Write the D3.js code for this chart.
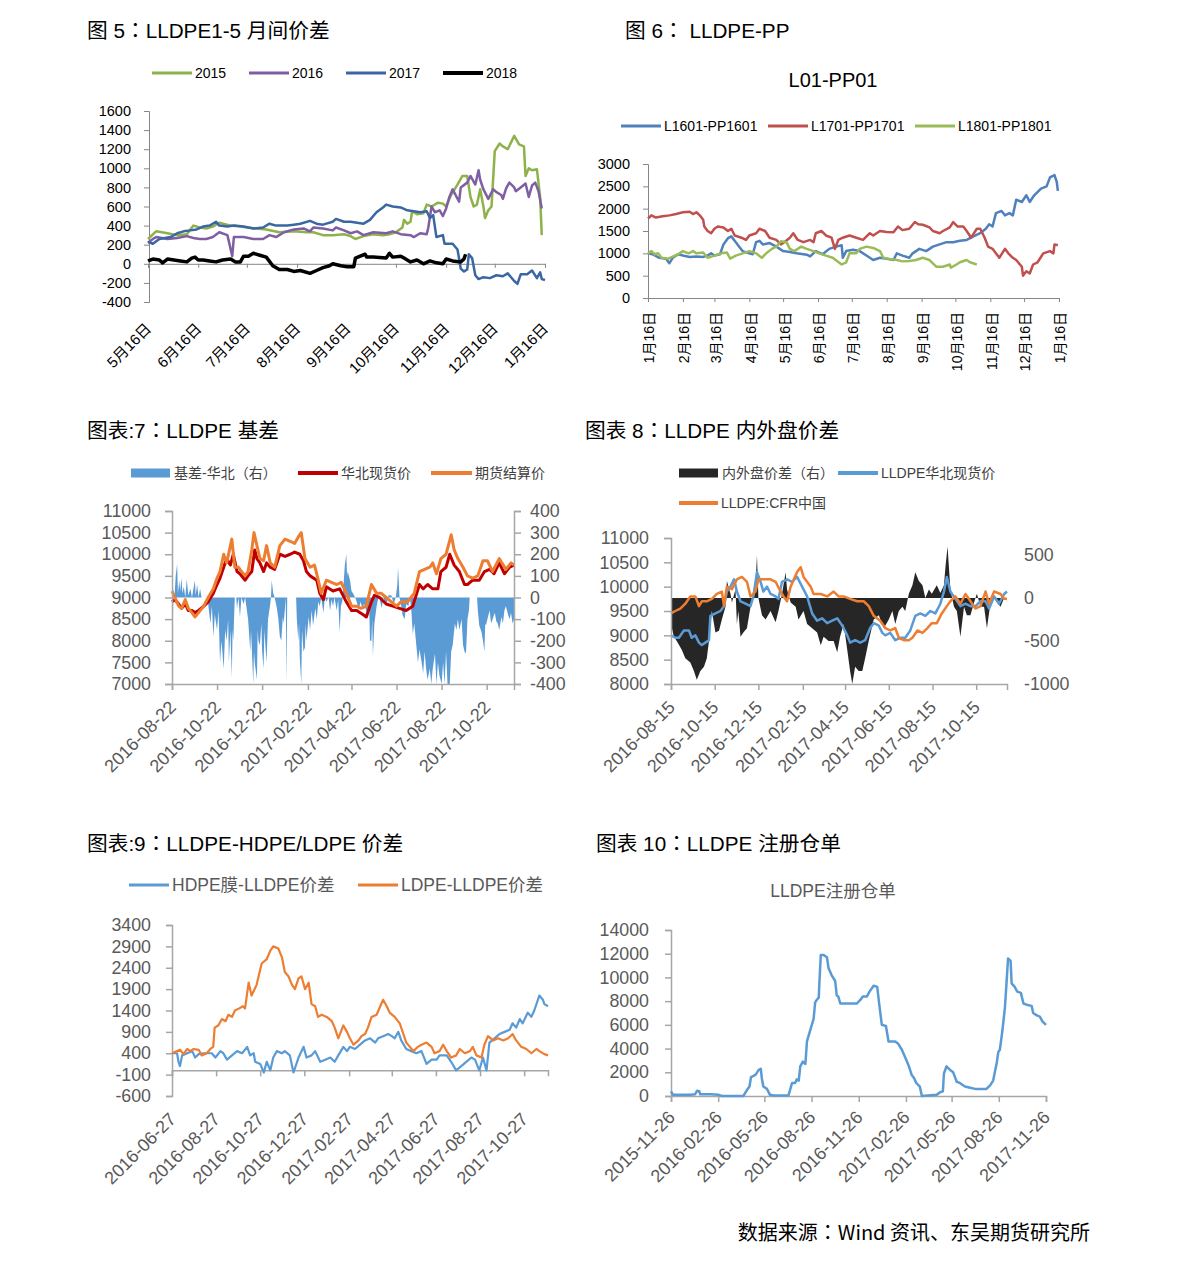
<!DOCTYPE html>
<html><head><meta charset="utf-8">
<script src="https://cdn.jsdelivr.net/npm/d3@7/dist/d3.min.js"></script>
<style>
body{margin:0;background:#fff;}
svg text{font-family:"Liberation Sans","Noto Sans CJK SC",sans-serif;}
</style></head><body>
<svg id="c" width="1191" height="1264"></svg>
<script>
// ================= DATA =================
// Fig 5: days since 5月16日
const p1Ticks = [0,31,61,92,123,153,184,214,245];
const p1TickLabels = ["5月16日","6月16日","7月16日","8月16日","9月16日","10月16日","11月16日","12月16日","1月16日"];
const p1YTicks = [-400,-200,0,200,400,600,800,1000,1200,1400,1600];
const p1_2015 = [[0,260],[5,340],[12,320],[18,300],[24,310],[28,400],[32,380],[36,370],[40,390],[44,430],[51,400],[57,390],[61,380],[67,370],[73,360],[81,330],[90,340],[98,330],[102,330],[108,300],[114,300],[121,310],[125,290],[128,260],[133,290],[139,310],[145,300],[149,310],[153,330],[157,380],[158,460],[160,420],[162,440],[163,550],[166,520],[170,530],[172,620],[175,600],[179,640],[182,630],[184,600],[187,720],[191,830],[194,920],[197,920],[199,700],[201,600],[203,620],[205,780],[207,600],[208,480],[210,560],[212,600],[214,1180],[217,1260],[219,1230],[222,1200],[226,1340],[229,1250],[232,1230],[233,920],[235,1000],[237,980],[240,990],[242,700],[243,300]];
const p1_2016 = [[0,220],[3,260],[5,280],[12,260],[18,270],[24,290],[28,270],[32,260],[36,260],[40,280],[44,330],[49,300],[52,80],[53,280],[59,280],[65,260],[71,260],[75,300],[79,280],[84,330],[90,360],[96,370],[100,340],[102,380],[108,370],[114,350],[116,380],[121,350],[125,320],[129,340],[133,300],[139,330],[147,320],[151,340],[156,310],[162,300],[164,280],[168,320],[172,310],[173,380],[175,600],[177,540],[180,560],[182,500],[184,580],[186,700],[188,780],[192,650],[193,800],[197,850],[199,920],[202,830],[204,980],[205,880],[207,780],[210,680],[213,780],[215,750],[218,720],[219,680],[221,790],[223,850],[226,800],[227,760],[230,800],[233,840],[235,700],[237,820],[239,850],[241,760],[243,580]];
const p1_2017 = [[0,230],[3,210],[7,260],[14,280],[18,320],[22,340],[26,350],[30,360],[34,390],[38,400],[42,440],[44,400],[49,390],[53,400],[59,390],[65,370],[71,380],[75,420],[79,400],[86,400],[90,410],[94,420],[100,450],[104,420],[108,410],[114,440],[116,470],[121,440],[125,440],[129,430],[133,420],[137,460],[141,540],[145,590],[147,620],[151,600],[156,590],[160,560],[164,550],[168,540],[172,550],[174,480],[176,510],[178,280],[182,300],[183,210],[188,210],[191,150],[193,-50],[195,-80],[197,-60],[198,100],[200,60],[202,-120],[204,-160],[207,-140],[211,-150],[215,-120],[219,-130],[222,-100],[226,-180],[228,-210],[230,-110],[234,-110],[237,-70],[240,-150],[242,-90],[243,-160],[245,-170]];
const p1_2018 = [[0,30],[3,50],[7,40],[9,10],[12,50],[16,40],[20,30],[24,20],[27,60],[29,70],[31,40],[34,40],[38,30],[42,20],[46,40],[51,50],[54,20],[57,20],[59,80],[62,80],[65,110],[69,90],[73,70],[77,-20],[81,-60],[86,-60],[90,-80],[94,-70],[100,-100],[104,-70],[108,-40],[112,-20],[114,0],[119,-20],[123,-30],[127,-30],[128,60],[131,80],[134,100],[135,70],[139,70],[147,60],[149,110],[151,70],[156,80],[158,60],[162,20],[166,40],[170,0],[174,30],[178,10],[182,0],[184,50],[188,30],[193,20],[195,50],[196,100]];

// Fig 6: days since 1月16日
const p2Ticks = [0,31,59,90,120,151,181,212,243,273,304,334,365];
const p2TickLabels = ["1月16日","2月16日","3月16日","4月16日","5月16日","6月16日","7月16日","8月16日","9月16日","10月16日","11月16日","12月16日","1月16日"];
const p2YTicks = [0,500,1000,1500,2000,2500,3000];
const p2_L1601 = [[0,1000],[4,980],[10,900],[16,880],[19,780],[22,900],[27,980],[31,950],[37,920],[43,930],[49,920],[53,950],[56,1000],[59,950],[64,980],[67,1200],[71,1340],[74,1380],[78,1250],[81,1150],[84,1050],[90,1000],[93,980],[96,1250],[99,1280],[102,1200],[108,1230],[114,1150],[117,1100],[120,1050],[126,1030],[132,1000],[141,970],[144,930],[149,1050],[155,980],[161,1100],[167,1150],[172,1180],[173,900],[176,1050],[182,1080],[188,1050],[194,950],[200,850],[206,900],[212,880],[218,850],[221,1000],[226,950],[232,900],[235,1000],[241,1100],[247,1050],[253,1150],[259,1200],[265,1250],[271,1250],[277,1280],[283,1300],[289,1380],[295,1450],[300,1550],[303,1650],[306,1600],[309,1900],[314,1950],[317,1850],[321,1900],[324,1850],[327,2200],[332,2150],[336,2300],[339,2150],[343,2300],[349,2450],[354,2500],[357,2700],[361,2750],[363,2600],[364,2400]];
const p2_L1701 = [[0,1780],[3,1850],[7,1800],[13,1830],[19,1850],[25,1880],[31,1920],[37,1930],[40,1880],[43,1920],[46,1850],[49,1750],[50,1600],[53,1500],[56,1450],[59,1550],[62,1600],[67,1580],[71,1500],[74,1550],[77,1400],[83,1350],[87,1300],[90,1400],[96,1450],[99,1550],[104,1500],[108,1350],[114,1300],[118,1200],[121,1250],[126,1350],[129,1450],[133,1300],[138,1250],[144,1300],[147,1250],[149,1450],[154,1500],[158,1400],[163,1350],[166,1100],[169,1300],[173,1350],[179,1400],[185,1350],[191,1300],[197,1450],[200,1400],[206,1500],[212,1480],[218,1470],[222,1600],[226,1520],[232,1550],[237,1700],[240,1650],[244,1640],[250,1580],[253,1500],[259,1450],[262,1500],[268,1580],[271,1700],[275,1600],[280,1600],[283,1500],[287,1350],[292,1550],[295,1550],[299,1350],[302,1150],[306,1100],[312,900],[317,1100],[320,1000],[324,900],[327,850],[332,700],[333,500],[336,600],[339,550],[342,750],[346,800],[351,1000],[357,1050],[360,1000],[361,1200],[364,1180]];
const p2_L1801 = [[0,1000],[3,1050],[6,980],[9,1000],[12,900],[18,880],[24,950],[28,1000],[31,1050],[36,1000],[40,1050],[43,1000],[49,1020],[53,900],[59,950],[65,1000],[70,1020],[73,880],[78,950],[84,1000],[90,1050],[96,1000],[101,900],[105,1000],[110,1100],[114,1150],[118,1270],[123,1250],[126,1100],[130,1050],[136,1150],[141,1100],[147,1050],[152,1000],[158,950],[164,900],[172,750],[176,800],[179,1000],[185,1000],[188,1100],[194,1150],[200,1120],[206,1050],[209,900],[215,870],[221,850],[226,820],[232,830],[238,850],[244,900],[250,850],[256,700],[262,700],[268,750],[269,680],[274,750],[277,800],[283,850],[286,800],[292,750]];

// Fig 7: days since 2016-08-22
const p3Start = "2016-08-22", p3EndDay = 463;
const p3Ticks = ["2016-08-22","2016-10-22","2016-12-22","2017-02-22","2017-04-22","2017-06-22","2017-08-22","2017-10-22"];
const p3YTicks = [7000,7500,8000,8500,9000,9500,10000,10500,11000];
const p3YRTicks = [-400,-300,-200,-100,0,100,200,300,400];
const p3_spot = [[0,8900],[4,8950],[9,8850],[13,8750],[18,8850],[22,8700],[27,8700],[31,8650],[36,8700],[43,8800],[49,8900],[56,9100],[61,9300],[65,9450],[70,9700],[74,9900],[79,9750],[83,10000],[88,9600],[92,9550],[99,9400],[103,9500],[108,9600],[112,10100],[115,9900],[119,9800],[124,9600],[128,9800],[133,9700],[139,9650],[146,10000],[153,9950],[160,10000],[166,10050],[173,10000],[178,9850],[182,9600],[187,9500],[196,9400],[200,9100],[205,8950],[209,9250],[218,9150],[227,9200],[236,8900],[243,8700],[250,8700],[259,8600],[263,8550],[270,8900],[274,9050],[281,9000],[290,8850],[299,8800],[308,8750],[317,8700],[326,8800],[335,9300],[340,9200],[346,9300],[353,9200],[360,9200],[364,9600],[371,9700],[376,10000],[382,9750],[389,9600],[396,9300],[400,9300],[407,9400],[416,9400],[423,9600],[430,9650],[436,9550],[443,9800],[450,9550],[457,9700],[463,9750]];
const p3_fut = [[0,9150],[4,9000],[9,8800],[13,8750],[18,8950],[22,8750],[27,8650],[31,8550],[36,8650],[43,8800],[49,9000],[56,9200],[61,9450],[65,9600],[70,10000],[74,9800],[81,10350],[85,9700],[90,9700],[94,9600],[99,9500],[103,9600],[108,10100],[111,10500],[115,10200],[119,9900],[124,9850],[128,10200],[133,9800],[139,9700],[146,10200],[153,10350],[160,10300],[166,10250],[171,10400],[175,10500],[180,9900],[187,9700],[193,9750],[198,9400],[202,9100],[209,9400],[216,9350],[223,9300],[229,9350],[236,9100],[243,8800],[250,8800],[256,8750],[263,8800],[270,9300],[277,9100],[283,9100],[290,9000],[297,8900],[304,8800],[310,8900],[319,8900],[328,9100],[335,9600],[342,9650],[349,9700],[353,9800],[358,9550],[364,9900],[371,10000],[378,10450],[382,10100],[387,9900],[394,9700],[400,9500],[407,9450],[414,9500],[421,9850],[427,9850],[434,9600],[443,9900],[452,9650],[459,9800],[463,9750]];
const p3_basis = [[0,-60],[1,-150],[2,50],[3,-20],[5,100],[7,155],[8,20],[10,80],[11,30],[13,90],[14,20],[16,50],[18,0],[20,85],[22,10],[25,40],[27,0],[31,80],[32,10],[34,60],[36,0],[38,40],[40,0],[48,0],[50,-60],[52,-120],[54,-40],[56,-180],[58,-80],[61,-150],[63,-60],[65,-300],[67,-200],[70,-330],[72,-150],[74,-200],[76,-100],[77,-300],[79,-150],[81,-370],[82,-150],[83,-200],[85,0],[87,0],[88,-50],[90,0],[92,-90],[94,0],[97,-30],[99,0],[101,-50],[103,-100],[106,-250],[107,-150],[108,-230],[110,-400],[111,-250],[112,-300],[115,-380],[116,-150],[117,-200],[119,-220],[121,-120],[122,-250],[124,-330],[125,-150],[126,-200],[128,-300],[130,-100],[133,-30],[134,0],[135,80],[137,20],[139,0],[142,-50],[144,-100],[146,-180],[148,-200],[150,-90],[151,-120],[153,-50],[154,0],[155,-400],[156,0],[168,0],[169,-100],[171,-200],[172,-120],[173,-280],[175,-400],[176,-150],[178,-250],[180,-230],[181,-120],[182,-200],[185,-90],[187,-150],[189,-60],[191,-130],[194,-50],[196,-100],[198,-20],[200,-40],[202,0],[205,-70],[207,0],[209,-20],[212,0],[214,-60],[216,-10],[218,-40],[220,0],[223,-60],[225,-10],[227,-160],[229,-20],[230,-40],[231,0],[232,50],[234,150],[236,200],[237,100],[238,120],[241,80],[243,30],[245,20],[248,0],[250,-20],[253,-60],[255,-20],[258,-50],[260,-30],[263,-60],[265,-100],[267,-50],[268,-200],[270,-200],[271,-100],[272,-270],[274,-120],[277,-40],[280,10],[284,-50],[286,0],[290,-40],[293,10],[297,10],[300,-30],[303,0],[305,60],[306,140],[308,0],[311,-50],[312,-80],[315,-100],[317,-30],[320,-40],[322,0],[324,-60],[326,-170],[328,-120],[331,-230],[333,-300],[335,-240],[338,-300],[340,-350],[342,-250],[344,-330],[346,-380],[349,-330],[351,-400],[353,-330],[356,-260],[358,-400],[360,-300],[362,-360],[365,-400],[367,-300],[369,-400],[371,-250],[373,-400],[376,-400],[378,-250],[380,-220],[383,-120],[385,-150],[387,-100],[389,-150],[392,-100],[394,-220],[396,-250],[398,-260],[400,-100],[402,-60],[403,0],[413,0],[414,-60],[416,-130],[419,-160],[421,-200],[423,-250],[424,-120],[425,-130],[427,-100],[430,-60],[432,-120],[434,-100],[437,-70],[439,-110],[441,-120],[443,-150],[446,-90],[448,-120],[450,-60],[452,-40],[455,-80],[457,-100],[459,-70],[461,-120],[463,-100]];

// Fig 8: days since 2016-08-15
const p4Start = "2016-08-15", p4EndDay = 469;
const p4Ticks = ["2016-08-15","2016-10-15","2016-12-15","2017-02-15","2017-04-15","2017-06-15","2017-08-15","2017-10-15"];
const p4YTicks = [8000,8500,9000,9500,10000,10500,11000];
const p4YRTicks = [-1000,-500,0,500];
const p4_diff = [[0,-300],[4,-450],[8,-500],[15,-600],[20,-700],[27,-750],[32,-850],[36,-950],[41,-850],[46,-800],[50,-700],[53,-500],[57,-150],[62,-400],[67,-380],[71,-250],[76,-100],[78,200],[83,50],[85,-50],[90,100],[92,-300],[94,-150],[97,-450],[101,-400],[106,-350],[111,-100],[115,0],[118,150],[120,500],[122,0],[127,-200],[132,-250],[139,-150],[146,-280],[150,-150],[155,50],[160,300],[162,100],[167,-50],[174,-100],[178,-250],[185,-150],[190,-300],[197,-350],[204,-400],[209,-550],[213,-450],[220,-500],[227,-500],[232,-630],[236,-450],[241,-300],[246,-600],[250,-850],[253,-1000],[257,-800],[262,-850],[267,-850],[271,-700],[276,-500],[283,-250],[290,-200],[297,-350],[304,-250],[309,-150],[313,-300],[318,-150],[323,-100],[327,-150],[332,50],[337,150],[341,300],[346,200],[351,150],[355,0],[360,100],[364,50],[371,150],[376,60],[381,150],[383,350],[386,600],[390,100],[395,-100],[399,-150],[404,-450],[409,-100],[413,-200],[418,-200],[423,-50],[427,50],[432,-100],[437,-100],[441,-350],[446,-50],[451,0],[455,-50],[460,-100],[465,0],[469,0]];
const p4_spot = [[0,9000],[6,8950],[11,8950],[18,9100],[25,9100],[29,8950],[34,9000],[39,8850],[43,8800],[48,8850],[53,8900],[55,9400],[62,9450],[69,9500],[74,9600],[78,9900],[83,10000],[88,10150],[92,9900],[97,9700],[104,9650],[111,9600],[115,9800],[120,10300],[125,10100],[129,9900],[134,10000],[139,9850],[146,9800],[150,9750],[155,10100],[162,10150],[169,10100],[176,10200],[183,10000],[190,9800],[197,9450],[204,9300],[211,9350],[218,9250],[225,9300],[232,9350],[239,9200],[246,9000],[250,8850],[257,8900],[264,8850],[271,8900],[278,9150],[283,9250],[290,9200],[295,9050],[299,9000],[306,9050],[313,8900],[320,8950],[327,8950],[334,9100],[341,9400],[348,9450],[355,9400],[362,9500],[369,9450],[376,9650],[381,9900],[385,10200],[390,9900],[397,9750],[404,9600],[411,9650],[418,9600],[425,9600],[432,9700],[439,9700],[444,9550],[451,9800],[458,9650],[465,9850],[469,9900]];
const p4_cfr = [[0,9450],[6,9500],[13,9550],[20,9650],[27,9800],[34,9800],[39,9600],[43,9700],[50,9700],[57,9750],[64,9850],[71,9900],[74,9600],[78,10000],[85,9950],[92,10150],[99,10200],[106,10100],[111,9800],[118,9900],[122,10150],[129,10150],[139,10150],[146,10100],[153,9900],[157,9800],[162,9700],[167,10000],[176,10300],[181,10400],[185,10200],[195,10000],[199,9850],[209,9850],[218,9800],[227,9900],[234,9800],[241,9800],[250,9750],[260,9700],[269,9700],[276,9600],[283,9400],[292,9300],[299,9150],[306,9100],[313,9150],[318,8950],[325,8900],[332,8900],[337,8950],[344,9100],[351,9050],[358,9150],[364,9250],[371,9250],[378,9450],[385,9600],[390,9700],[397,9800],[404,9650],[411,9850],[418,9700],[425,9550],[432,9600],[439,9900],[444,9650],[451,9900],[460,9850],[465,9750],[469,9750]];

// Fig 9: days since 2016-06-27
const p5Start = "2016-06-27", p5EndDay = 520;
const p5Ticks = ["2016-06-27","2016-08-27","2016-10-27","2016-12-27","2017-02-27","2017-04-27","2017-06-27","2017-08-27","2017-10-27"];
const p5YTicks = [-600,-100,400,900,1400,1900,2400,2900,3400];
const p5_hdpe = [[0,400],[7,400],[9,200],[11,100],[14,350],[21,400],[28,450],[32,300],[37,380],[44,400],[55,400],[60,300],[67,450],[71,400],[76,250],[83,350],[90,450],[97,400],[104,550],[108,350],[113,400],[115,200],[122,150],[127,-50],[131,200],[136,0],[140,300],[145,450],[152,400],[156,450],[163,350],[168,-50],[175,300],[182,550],[186,300],[193,350],[198,450],[205,200],[212,250],[219,300],[225,200],[230,350],[237,550],[242,450],[246,550],[253,500],[260,600],[267,700],[274,750],[281,650],[285,750],[292,800],[299,850],[304,800],[308,750],[313,900],[317,700],[324,500],[331,450],[338,400],[345,450],[352,150],[359,250],[366,250],[370,350],[380,350],[386,200],[393,0],[400,100],[407,200],[414,300],[419,250],[425,0],[430,300],[435,0],[439,650],[446,750],[453,850],[460,900],[467,950],[471,1100],[476,1000],[481,1200],[485,1100],[492,1350],[497,1250],[501,1400],[508,1750],[513,1650],[515,1550],[520,1500]];
const p5_ldpe = [[0,400],[7,450],[11,480],[16,380],[21,500],[25,450],[30,500],[37,480],[41,350],[48,400],[53,500],[57,550],[59,1000],[64,1050],[69,1200],[74,1150],[78,1300],[83,1250],[87,1400],[93,1450],[98,1500],[101,1450],[106,2050],[110,1750],[117,2000],[124,2500],[131,2600],[136,2800],[140,2900],[147,2850],[152,2650],[156,2300],[161,2200],[166,2000],[170,1900],[175,2150],[179,2200],[184,1900],[189,2050],[193,1550],[198,1500],[202,1250],[207,1300],[214,1250],[221,1150],[225,1000],[230,750],[237,1050],[242,900],[246,750],[251,600],[258,700],[262,800],[267,850],[271,1000],[276,1250],[283,1300],[288,1500],[292,1650],[297,1500],[301,1350],[308,1250],[315,1100],[320,850],[324,650],[329,550],[334,450],[340,550],[345,600],[352,650],[359,550],[363,400],[370,450],[375,600],[380,450],[386,300],[393,350],[398,500],[405,400],[412,450],[416,550],[421,350],[428,300],[432,600],[437,800],[444,700],[451,750],[458,700],[465,750],[471,850],[476,700],[483,550],[490,500],[497,400],[504,500],[508,450],[515,380],[520,350]];

// Fig 10: days since 2015-11-26
const p6Start = "2015-11-26", p6EndDay = 731;
const p6Ticks = ["2015-11-26","2016-02-26","2016-05-26","2016-08-26","2016-11-26","2017-02-26","2017-05-26","2017-08-26","2017-11-26"];
const p6YTicks = [0,2000,4000,6000,8000,10000,12000,14000];
const p6_wr = [[0,400],[4,100],[12,100],[38,100],[47,150],[51,450],[55,400],[57,150],[77,150],[93,100],[99,0],[141,0],[148,500],[153,800],[156,1600],[161,1700],[165,1800],[171,2200],[175,2300],[177,1500],[180,800],[187,600],[193,100],[200,50],[229,50],[232,500],[236,1100],[242,1100],[245,1400],[249,1300],[252,2500],[257,2900],[262,2700],[265,4600],[271,5500],[278,6500],[281,7900],[284,8100],[288,8300],[289,9300],[292,11900],[297,11900],[304,11700],[307,10800],[313,10200],[320,9700],[323,8500],[326,8400],[330,7800],[336,7800],[362,7800],[369,8100],[374,8400],[382,8400],[387,8800],[395,9300],[402,9200],[406,7700],[411,6000],[419,5900],[424,4600],[437,4600],[443,4400],[450,3900],[456,3300],[463,2600],[469,1800],[474,1500],[478,1100],[485,800],[489,0],[518,100],[524,300],[530,400],[532,1900],[537,2500],[544,2200],[550,2000],[557,1200],[563,1100],[573,800],[583,700],[593,600],[615,600],[622,900],[628,1300],[635,2800],[638,3700],[641,3900],[646,5500],[651,7500],[654,9500],[657,11600],[662,11400],[664,9500],[670,9200],[675,8800],[682,8700],[687,7800],[693,7700],[703,7600],[706,7000],[713,6800],[719,6700],[724,6300],[731,6000]];

// ================= DRAW =================
const svg = d3.select("#c");
const dayOf = (start, s) => d3.timeDay.count(new Date(start + "T00:00:00"), new Date(s + "T00:00:00"));
const fmtNum = d => String(d);
const TITLE = 20.7;

// text with centred full-width colon
function richText(x, y, s, size, fill, anchor, family) {
  const t = svg.append("text").attr("x", x).attr("y", y).attr("font-size", size || TITLE)
    .attr("fill", fill || "#000").attr("text-anchor", anchor || "start");
  if (family) t.style("font-family", family);
  const parts = s.split("：");
  parts.forEach((p, i) => {
    if (i > 0) t.append("tspan").style("font-family", '"Noto Sans CJK TC"').text("：");
    if (p) t.append("tspan").text(p);
  });
  return t;
}
function styleAxis(a, color, sw, fs, fill) {
  a.attr("font-family", null);
  a.select(".domain").attr("stroke", color).attr("stroke-width", sw);
  a.selectAll(".tick line").attr("stroke", color).attr("stroke-width", sw);
  a.selectAll(".tick text").attr("font-size", fs).attr("fill", fill);
}
function yAxisLeft(scale, ticks, x, labelEnd, tl, color, sw, fs, fill) {
  const ax = d3.axisLeft(scale).tickValues(ticks).tickFormat(fmtNum).tickSizeOuter(0).tickSize(tl).tickPadding(x - labelEnd - tl);
  const a = svg.append("g").attr("transform", `translate(${x},0)`).call(ax);
  styleAxis(a, color, sw, fs, fill);
  return a;
}
function yAxisRight(scale, ticks, x, labelStart, tl, color, sw, fs, fill, hideLine) {
  const ax = d3.axisRight(scale).tickValues(ticks).tickFormat(fmtNum).tickSizeOuter(0).tickSize(tl).tickPadding(labelStart - x - tl);
  const a = svg.append("g").attr("transform", `translate(${x},0)`).call(ax);
  styleAxis(a, color, sw, fs, fill);
  if (hideLine) { a.select(".domain").attr("stroke", "none"); a.selectAll(".tick line").attr("stroke", "none"); }
  return a;
}
function xAxisLine(scale, ticks, y, tl, color, sw) {
  const ax = d3.axisBottom(scale).tickValues(ticks).tickSizeOuter(0).tickSize(tl).tickFormat("");
  const a = svg.append("g").attr("transform", `translate(0,${y})`).call(ax);
  a.select(".domain").attr("stroke", color).attr("stroke-width", sw);
  a.selectAll(".tick line").attr("stroke", color).attr("stroke-width", sw);
  return a;
}
function xLabels(scale, ticks, labels, y, angle, dx, fs, fill) {
  const ax = d3.axisBottom(scale).tickValues(ticks).tickSize(0).tickFormat((d, i) => labels[i]);
  const a = svg.append("g").attr("transform", `translate(0,${y})`).call(ax);
  a.attr("font-family", null);
  a.select(".domain").remove();
  a.selectAll(".tick text").attr("font-size", fs).attr("fill", fill)
    .attr("y", 0).attr("x", 0).attr("dy", "0.35em").attr("text-anchor", "end")
    .attr("transform", `translate(${dx},0) rotate(${angle})`);
  return a;
}
function drawLine(data, x, y, color, w) {
  svg.append("path").datum(data).attr("fill", "none").attr("stroke", color)
    .attr("stroke-width", w).attr("stroke-linejoin", "round")
    .attr("d", d3.line().x(d => x(d[0])).y(d => y(d[1])));
}
function drawArea(data, x, y, color) {
  svg.append("path").datum(data).attr("fill", color).attr("stroke", "none")
    .attr("d", d3.area().x(d => x(d[0])).y0(y(0)).y1(d => y(d[1])));
}
function legLine(x1, x2, y, color, w, label, fs, fill) {
  svg.append("line").attr("x1", x1).attr("x2", x2).attr("y1", y).attr("y2", y)
    .attr("stroke", color).attr("stroke-width", w);
  svg.append("text").attr("x", x2 + 3).attr("y", y).attr("dy", "0.35em")
    .attr("font-size", fs).attr("fill", fill).text(label);
}
function legRect(x1, x2, y, h, color, label, fs, fill) {
  svg.append("rect").attr("x", x1).attr("y", y - h / 2).attr("width", x2 - x1).attr("height", h).attr("fill", color);
  svg.append("text").attr("x", x2 + 4).attr("y", y).attr("dy", "0.35em")
    .attr("font-size", fs).attr("fill", fill).text(label);
}

// ---------- Fig 5 ----------
richText(87, 38, "图 5：LLDPE1-5 月间价差");
{
  const x = d3.scaleLinear().domain([0, 245]).range([148, 545]);
  const y = d3.scaleLinear().domain([-400, 1600]).range([302, 111]);
  yAxisLeft(y, p1YTicks, 149, 131, 5, "#868686", 1, 14.5, "#000");
  xAxisLine(x, p1Ticks, y(0), 4, "#868686", 1);
  xLabels(x, p1Ticks, p1TickLabels, 326, -45, 0, 15, "#000");
  drawLine(p1_2015, x, y, "#8eb24a", 2.5);
  drawLine(p1_2016, x, y, "#7f5ea3", 2.5);
  drawLine(p1_2017, x, y, "#3a67a3", 2.5);
  drawLine(p1_2018, x, y, "#000", 3.5);
  legLine(152, 192, 73, "#8eb24a", 3, "2015", 14, "#000");
  legLine(249, 289, 73, "#7f5ea3", 3, "2016", 14, "#000");
  legLine(346, 386, 73, "#3a67a3", 3, "2017", 14, "#000");
  legLine(443, 483, 73, "#000", 4, "2018", 14, "#000");
}

// ---------- Fig 6 ----------
richText(625, 38, "图 6：  LLDPE-PP");
richText(833, 87, "L01-PP01", 20, "#000", "middle");
{
  const x = d3.scaleLinear().domain([0, 365]).range([648, 1059]);
  const y = d3.scaleLinear().domain([0, 3000]).range([298, 164]);
  yAxisLeft(y, p2YTicks, 648, 630, 5, "#868686", 1, 14.5, "#000");
  xAxisLine(x, p2Ticks, y(0), 4, "#868686", 1);
  xLabels(x, p2Ticks, p2TickLabels, 312, -90, 1, 14, "#000");
  drawLine(p2_L1601, x, y, "#4f81bd", 2.5);
  drawLine(p2_L1701, x, y, "#c0504d", 2.5);
  drawLine(p2_L1801, x, y, "#9bbb59", 2.5);
  legLine(621, 661, 126, "#4f81bd", 3, "L1601-PP1601", 14, "#000");
  legLine(768, 808, 126, "#c0504d", 3, "L1701-PP1701", 14, "#000");
  legLine(915, 955, 126, "#9bbb59", 3, "L1801-PP1801", 14, "#000");
}

// ---------- Fig 7 ----------
richText(87, 438, "图表:7：LLDPE 基差");
{
  const x = d3.scaleLinear().domain([0, p3EndDay]).range([172, 514]);
  const y = d3.scaleLinear().domain([7000, 11000]).range([684, 511]);
  const yr = d3.scaleLinear().domain([-400, 400]).range([684, 511]);
  const tks = p3Ticks.map(s => dayOf(p3Start, s));
  drawArea(p3_basis, x, yr, "#5b9bd5");
  drawLine(p3_spot, x, y, "#c00000", 3);
  drawLine(p3_fut, x, y, "#ed7d31", 3);
  yAxisLeft(y, p3YTicks, 172, 151, 7, "#a6a6a6", 1.5, 17.8, "#595959");
  yAxisRight(yr, p3YRTicks, 514, 530, 7, "#a6a6a6", 1.5, 17.8, "#595959");
  xAxisLine(x, tks, 684, 6, "#a6a6a6", 1.5);
  xLabels(x, tks, p3Ticks, 704, -45, 0, 18, "#595959");
  legRect(131, 170, 473, 9, "#5b9bd5", "基差-华北（右）", 14, "#404040");
  legLine(298, 338, 473, "#c00000", 4, "华北现货价", 14, "#404040");
  legLine(431, 472, 473, "#ed7d31", 4, "期货结算价", 14, "#404040");
}

// ---------- Fig 8 ----------
richText(585, 438, "图表 8：LLDPE 内外盘价差");
{
  const x = d3.scaleLinear().domain([0, p4EndDay]).range([671, 1007]);
  const y = d3.scaleLinear().domain([8000, 11000]).range([684, 538]);
  const yr = d3.scaleLinear().domain([-1000, 700]).range([684, 538]);
  const tks = p4Ticks.map(s => dayOf(p4Start, s));
  drawArea(p4_diff, x, yr, "#262626");
  drawLine(p4_spot, x, y, "#5b9bd5", 2.5);
  drawLine(p4_cfr, x, y, "#ed7d31", 2.5);
  yAxisLeft(y, p4YTicks, 671, 649, 7, "#a6a6a6", 1.5, 17.8, "#595959");
  yAxisRight(yr, p4YRTicks, 1007, 1024, 0, "#a6a6a6", 1.5, 17.8, "#595959", true);
  xAxisLine(x, tks, 684, 6, "#a6a6a6", 1.5);
  xLabels(x, tks, p4Ticks, 704, -45, 0, 18, "#595959");
  legRect(679, 718, 473, 9, "#262626", "内外盘价差（右）", 14, "#404040");
  legLine(838, 878, 473, "#5b9bd5", 4, "LLDPE华北现货价", 14, "#404040");
  legLine(679, 718, 503, "#ed7d31", 4, "LLDPE:CFR中国", 14, "#404040");
}

// ---------- Fig 9 ----------
richText(87, 851, "图表:9：LLDPE-HDPE/LDPE 价差");
{
  const x = d3.scaleLinear().domain([0, p5EndDay]).range([172, 548]);
  const y = d3.scaleLinear().domain([-600, 3400]).range([1096, 925]);
  const tks = p5Ticks.map(s => dayOf(p5Start, s));
  yAxisLeft(y, p5YTicks, 172, 151, 6, "#a6a6a6", 1.5, 17.8, "#595959");
  xAxisLine(x, tks, y(0), 6, "#a6a6a6", 1.5);
  xLabels(x, tks, p5Ticks, 1116, -45, 0, 18, "#595959");
  drawLine(p5_hdpe, x, y, "#5b9bd5", 2.2);
  drawLine(p5_ldpe, x, y, "#ed7d31", 2.2);
  legLine(129, 169, 885, "#5b9bd5", 3, "HDPE膜-LLDPE价差", 17.5, "#595959");
  legLine(358, 398, 885, "#ed7d31", 3, "LDPE-LLDPE价差", 17.5, "#595959");
}

// ---------- Fig 10 ----------
richText(596, 851, "图表 10：LLDPE 注册仓单");
richText(833, 897, "LLDPE注册仓单", 17.5, "#595959", "middle");
{
  const x = d3.scaleLinear().domain([0, p6EndDay]).range([671, 1046]);
  const y = d3.scaleLinear().domain([0, 14000]).range([1096, 930]);
  const tks = p6Ticks.map(s => dayOf(p6Start, s));
  yAxisLeft(y, p6YTicks, 671, 649, 6, "#a6a6a6", 1.5, 17.8, "#595959");
  xAxisLine(x, tks, 1096, 6, "#a6a6a6", 1.5);
  xLabels(x, tks, p6Ticks, 1114, -45, 0, 18, "#595959");
  drawLine(p6_wr, x, y, "#5b9bd5", 2.5);
}

// footer
richText(1090, 1240, "数据来源：Wind 资讯、东吴期货研究所", 20, "#000", "end",
  '"Noto Sans CJK SC","Liberation Sans",sans-serif');
</script>
</body></html>
